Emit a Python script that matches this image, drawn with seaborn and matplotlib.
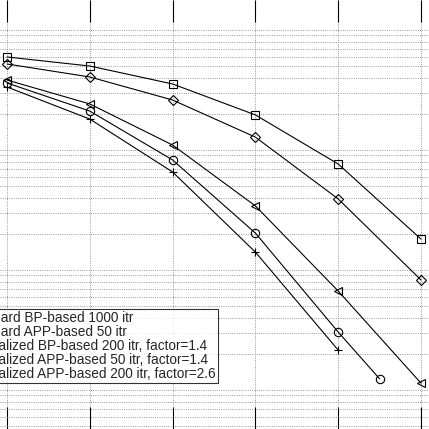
import numpy as np
import pandas as pd
import matplotlib
matplotlib.use("Agg")
import matplotlib.pyplot as plt
import seaborn as sns

x_vals = [1, 2, 3, 4, 5, 6]
bp_1000 = [0.0596, 0.0501, 0.0355, 0.0196, 0.00764, 0.00181]
app_50 = [0.0521, 0.0406, 0.0261, 0.0128, 0.00391, 0.000826]
nbp_200 = [0.0383, 0.0242, 0.0110, 0.00342, 0.000668, 0.000114]
napp_50_x = [1, 2, 3, 4, 5, 5.5]
napp_50 = [0.0362, 0.0211, 0.00826, 0.00203, 0.000304, 0.000124]
napp_200_x = [1, 2, 3, 4, 5]
napp_200 = [0.0335, 0.0181, 0.00656, 0.00141, 0.000215]

labels = ["Standard BP-based 1000 itr",
          "Standard APP-based 50 itr",
          "Normalized BP-based 200 itr, factor=1.4",
          "Normalized APP-based 50 itr, factor=1.4",
          "Normalized APP-based 200 itr, factor=2.6"]
markers = ["s", "D", "<", "o", "+"]
series = [(x_vals, bp_1000), (x_vals, app_50), (x_vals, nbp_200),
          (napp_50_x, napp_50), (napp_200_x, napp_200)]

sns.set_style("white")
plt.rcParams["font.family"] = ["Liberation Sans", "DejaVu Sans"]
fig = plt.figure(figsize=(4.29, 4.29), dpi=100)
ax = fig.add_axes([0, 0, 1, 1])

for (xs, ys), lab, m in zip(series, labels, markers):
    df = pd.DataFrame({"x": xs, "y": ys})
    ms = 5 if m == "D" else 6
    sns.lineplot(data=df, x="x", y="y", ax=ax, color="black", lw=0.8,
                 marker=m, markersize=ms, markerfacecolor="none",
                 markeredgecolor="black", markeredgewidth=0.8, label=lab)

ax.set_yscale("log")
ax.set_xlim(1 - 7 / 82.8, 1 + 422 / 82.8)
ax.set_ylim(10 ** (-1 - 399 / 120), 10 ** (-1 + 30 / 120))
ax.set_xticks(x_vals)
ax.grid(True, which="major", axis="x", ls=":", color="#777777", lw=0.6)
ax.grid(True, which="both", axis="y", ls=":", color="#777777", lw=0.6)
ax.tick_params(axis="x", which="both", direction="in", top=True, bottom=True,
               length=16, width=0.8, color="black")
ax.tick_params(axis="y", which="both", left=False, right=False)
ax.set_xticklabels([])
ax.set_yticklabels([], minor=True)
ax.set_yticklabels([])
ax.set_xlabel("")
ax.set_ylabel("")
for s in ax.spines.values():
    s.set_visible(False)

leg = ax.legend(loc="lower right", bbox_to_anchor=(218 / 429, 1 - 383 / 429),
                bbox_transform=fig.transFigure, frameon=True, fancybox=False,
                fontsize=9.8, handlelength=3.0, borderaxespad=0,
                labelspacing=0.0, borderpad=0.15, handletextpad=0.5)
leg.get_frame().set_edgecolor("black")
leg.get_frame().set_linewidth(0.8)

fig.savefig("out.png", dpi=100)
